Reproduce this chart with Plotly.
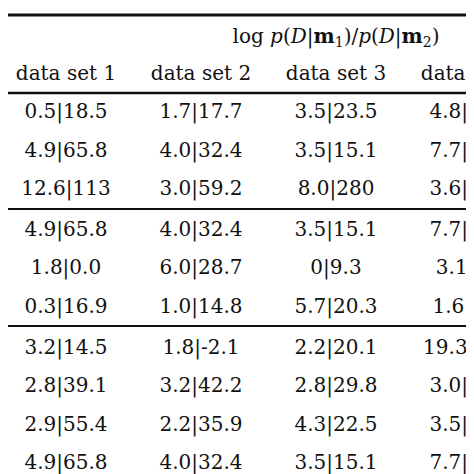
import plotly.graph_objects as go

columns = ["data set 1", "data set 2", "data set 3", "data set 4"]
header = "log <i>p</i>(<i>D</i>|<b>m</b><sub>1</sub>)/<i>p</i>(<i>D</i>|<b>m</b><sub>2</sub>)"

set1 = ["0.5|18.5", "4.9|65.8", "12.6|113", "4.9|65.8", "1.8|0.0", "0.3|16.9",
        "3.2|14.5", "2.8|39.1", "2.9|55.4", "4.9|65.8"]
set2 = ["1.7|17.7", "4.0|32.4", "3.0|59.2", "4.0|32.4", "6.0|28.7", "1.0|14.8",
        "1.8|-2.1", "3.2|42.2", "2.2|35.9", "4.0|32.4"]
set3 = ["3.5|23.5", "3.5|15.1", "8.0|280", "3.5|15.1", "0|9.3", "5.7|20.3",
        "2.2|20.1", "2.8|29.8", "4.3|22.5", "3.5|15.1"]
set4 = ["4.8|15.2", "7.7|17.0", "3.6|72.1", "7.7|17.0", "3.1|0.4", "1.6|-1.2",
        "19.3|21.4", "3.0|40.6", "3.5|31.8", "7.7|17.0"]
groups = [0, 0, 0, 1, 1, 1, 2, 2, 2, 2]

FONT = "DejaVu Serif"
row_y = [105 + 38.6 * i + 2 * g for i, g in enumerate(groups)]

fig = go.Figure()
for ci, vals in enumerate([set1, set2, set3, set4]):
    fig.add_trace(go.Scatter(
        x=[ci] * len(vals), y=row_y, text=vals, mode="text",
        textfont=dict(family=FONT, size=20, color="#111"),
        cliponaxis=True, hoverinfo="skip", showlegend=False,
    ))
fig.add_trace(go.Scatter(
    x=list(range(len(columns))), y=[67] * len(columns), text=columns, mode="text",
    textfont=dict(family=FONT, size=20, color="#111"),
    cliponaxis=True, hoverinfo="skip", showlegend=False,
))
fig.add_trace(go.Scatter(
    x=[2], y=[30], text=[header], mode="text",
    textfont=dict(family=FONT, size=20, color="#111"),
    cliponaxis=True, hoverinfo="skip", showlegend=False,
))

for y, w in [(7, 3), (85, 2.5), (201, 2), (318, 2), (472, 4)]:
    fig.add_shape(type="line", xref="paper", x0=0, x1=1, yref="y", y0=y, y1=y,
                  line=dict(color="#111" if y < 470 else "#666", width=w))

fig.update_xaxes(range=[-58 / 135, 416 / 135], visible=False)
fig.update_yaxes(range=[474, 0], visible=False)
fig.update_layout(width=474, height=474, margin=dict(l=0, r=0, t=0, b=0),
                  plot_bgcolor="white", paper_bgcolor="white")
fig.write_html("out.html")
